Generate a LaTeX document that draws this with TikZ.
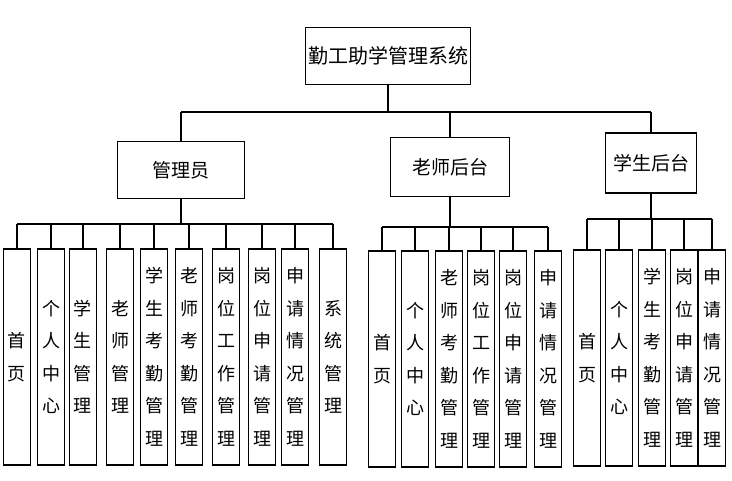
\documentclass[tikz,border=0pt]{standalone}
\usepackage{fontspec}
\setmainfont{Noto Sans CJK SC}
\begin{document}
\begin{tikzpicture}[x=1pt, y=-1pt, line width=1.2pt,
  box/.style = {draw, inner sep=0pt, font=\fontsize{19}{22}\selectfont},
  leaf/.style = {draw, inner sep=0pt, minimum width=27pt, minimum height=216pt, align=center, font=\fontsize{18}{32.5}\selectfont}]
	\useasboundingbox (0,0) rectangle (732,481);
	\node[box, minimum width=165pt, minimum height=57pt, font=\fontsize{20}{24}\selectfont] (root) at (388,56) {勤工助学管理系统};
	\node[box, minimum width=127pt, minimum height=57pt] (mgr) at (181,170) {管理员};
	\node[box, minimum width=119pt, minimum height=59pt] (tch) at (450,167) {老师后台};
	\node[box, minimum width=91pt, minimum height=60pt] (stu) at (651,163) {学生后台};
	\coordinate (bus) at (0,112);
	\coordinate (mbus) at (0,224);
	\coordinate (tbus) at (0,227);
	\coordinate (sbus) at (0,219);
	% manager
	\foreach \i/\x/\t in {1/17/首\\页, 2/51/个\\人\\中\\心, 3/83/学\\生\\管\\理, 4/120/老\\师\\管\\理, 5/154/学\\生\\考\\勤\\管\\理, 6/189/老\\师\\考\\勤\\管\\理, 7/226/岗\\位\\工\\作\\管\\理, 8/262/岗\\位\\申\\请\\管\\理, 9/295/申\\请\\情\\况\\管\\理, 10/333/系\\统\\管\\理}
		\node[leaf] (m\i) at (\x,357) {\t};
	% teacher
	\foreach \i/\x/\t in {1/382/首\\页, 2/415/个\\人\\中\\心, 3/449/老\\师\\考\\勤\\管\\理, 4/481/岗\\位\\工\\作\\管\\理, 5/513/岗\\位\\申\\请\\管\\理, 6/548/申\\请\\情\\况\\管\\理}
		\node[leaf] (t\i) at (\x,359) {\t};
	% student
	\foreach \i/\x/\t in {1/587/首\\页, 2/619/个\\人\\中\\心, 3/652/学\\生\\考\\勤\\管\\理, 4/684/岗\\位\\申\\请\\管\\理, 5/712/申\\请\\情\\况\\管\\理}
		\node[leaf] (s\i) at (\x,358) {\t};
	\draw (root) -- (root|-bus);
	\draw (mgr|-bus) -- (stu|-bus);
	\draw (mgr|-bus) -- (mgr);
	\draw (tch|-bus) -- (tch);
	\draw (stu|-bus) -- (stu);
	\draw (mgr) -- (mgr|-mbus);
	\draw (m1|-mbus) -- (m10|-mbus);
	\foreach \i in {1,...,10}
		\draw (m\i|-mbus) -- (m\i);
	\draw (tch) -- (tch|-tbus);
	\draw (t1|-tbus) -- (t6|-tbus);
	\foreach \i in {1,...,6}
		\draw (t\i|-tbus) -- (t\i);
	\draw (stu) -- (stu|-sbus);
	\draw (s1|-sbus) -- (s5|-sbus);
	\foreach \i in {1,...,5}
		\draw (s\i|-sbus) -- (s\i);
\end{tikzpicture}
\end{document}
